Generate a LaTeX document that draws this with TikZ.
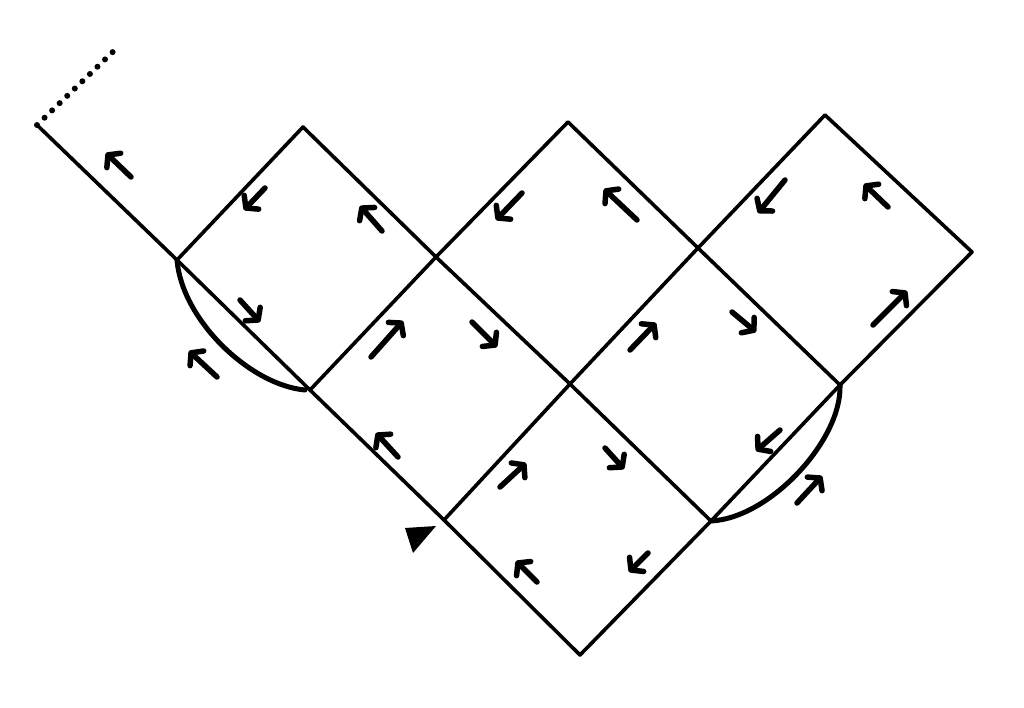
\documentclass[tikz,border=0pt]{standalone}
\usetikzlibrary{arrows.meta}
\begin{document}
\begin{tikzpicture}[x=1pt,y=-1pt,
  edge/.style={line width=3.6pt,line cap=round,line join=round},
  arc/.style={line width=5pt,line cap=round},
  flow/.style={line width=5.5pt,line cap=round,-{Straight Barb[length=8pt,width=20pt,line cap=round,line join=round]}},
  dotline/.style={line width=6pt,line cap=round,dash pattern=on 0pt off 10.5pt}]
\useasboundingbox (0,0) rectangle (1024,708);
% vertices
\coordinate (A0) at (37,125);
\coordinate (D0) at (120,45);
\coordinate (T1) at (303,127);
\coordinate (T2) at (568,122);
\coordinate (T3) at (825,115);
\coordinate (M1) at (177,260);
\coordinate (M2) at (436,257);
\coordinate (M3) at (698,248);
\coordinate (M4) at (972,252);
\coordinate (L1) at (310,390);
\coordinate (L2) at (570,384);
\coordinate (L3) at (840,385);
\coordinate (B1) at (444,520);
\coordinate (B2) at (711,521);
\coordinate (BT) at (580,655);
% grid edges
\draw[dotline] (A0) -- (D0);
\draw[edge] (A0) -- (M1) -- (T1) -- (M2) -- (T2) -- (M3) -- (T3) -- (M4) -- (L3);
\draw[edge] (M1) -- (L1) -- (B1) -- (BT) -- (B2) -- (L3) -- (M3) -- (L2) -- (M2) -- (L1);
\draw[edge] (B1) -- (L2) -- (B2);
% curved shortcuts
\draw[arc] (M1) .. controls (182,320) and (250,385) .. (305,390);
\draw[arc] (L3) .. controls (842,440) and (770,518) .. (B2);
% marker
\fill (405,528) -- (436,526) -- (413,553) -- cycle;
% flow arrows
\draw[flow] (131,177) -- (106,153);
\draw[flow] (265,188) -- (244,210);
\draw[flow] (382,231) -- (360,206);
\draw[flow] (240,300) -- (260,322);
\draw[flow] (217,377) -- (189,351);
\draw[flow] (371,357) -- (403,321);
\draw[flow] (472,322) -- (497,347);
\draw[flow] (398,457) -- (376,433);
\draw[flow] (522,193) -- (496,220);
\draw[flow] (637,220) -- (604,189);
\draw[flow] (630,350) -- (656,323);
\draw[flow] (785,180) -- (758,213);
\draw[flow] (888,207) -- (864,184);
\draw[flow] (732,312) -- (756,332);
\draw[flow] (873,325) -- (907,291);
\draw[flow] (500,487) -- (526,463);
\draw[flow] (605,448) -- (624,469);
\draw[flow] (780,430) -- (756,451);
\draw[flow] (797,503) -- (822,476);
\draw[flow] (537,582) -- (516,561);
\draw[flow] (648,553) -- (629,572);
\end{tikzpicture}
\end{document}
